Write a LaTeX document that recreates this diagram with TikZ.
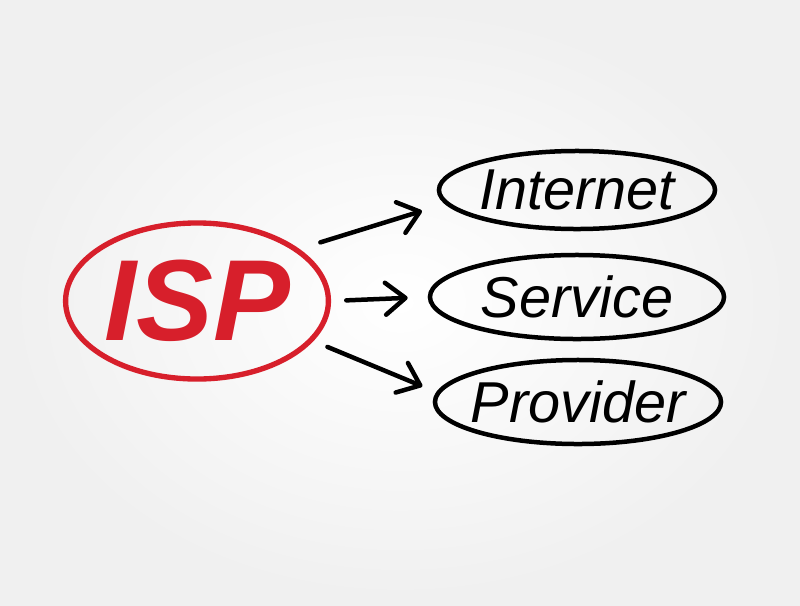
\documentclass[tikz,border=0pt]{standalone}
\usepackage{fontspec}
\setmainfont{Liberation Sans}
\usetikzlibrary{shapes.geometric,arrows.meta}
\definecolor{markred}{HTML}{D71F2B}
\begin{document}
\begin{tikzpicture}[x=0.025cm, y=-0.025cm,
		word/.style={ellipse, draw, line width=3.2pt, inner xsep=-1.2cm, inner ysep=-3mm,
			font=\fontsize{41}{45}\selectfont\itshape},
		acro/.style={ellipse, draw=markred, text=markred, line width=3.8pt, inner sep=0pt,
			font=\fontsize{82}{86}\selectfont\itshape\bfseries},
		arr/.style={line width=3.2pt, line cap=round,
			-{Straight Barb[length=5mm, width=8mm, line cap=round, line join=round]}}]
	\useasboundingbox (0, 0) rectangle (800, 605);
	\shade[inner color=white, outer color=gray!12] (0, 0) rectangle (800, 605);
	\node[acro, minimum width=6.05cm, minimum height=3.9cm] (isp) at (197, 301) {ISP};
	\node[word, minimum width=6.9cm, minimum height=1.95cm] (internet) at (577, 190) {Internet};
	\node[word, minimum width=7.35cm, minimum height=2.1cm] (service) at (577, 297) {Service};
	\node[word, minimum width=7.15cm, minimum height=2.1cm] (provider) at (578, 402) {Provider};
	\draw[arr, shorten <=0.55cm, shorten >=0.6cm] (isp.27) -- (internet.186);
	\draw[arr, shorten <=0.38cm, shorten >=0.5cm] (isp.east) -- (service.west);
	\draw[arr, shorten <=0.38cm, shorten >=0.38cm] (isp.-19) -- (provider.176);
\end{tikzpicture}
\end{document}
